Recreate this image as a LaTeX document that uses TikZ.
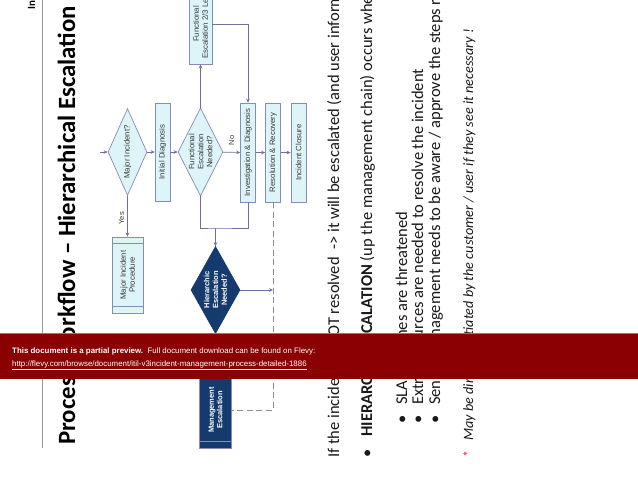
\documentclass[tikz,border=0pt]{standalone}
\usepackage{fontspec}
\setmainfont{Carlito}
\newfontfamily\arialf{Liberation Sans}
\usetikzlibrary{shapes.geometric,arrows.meta}
\definecolor{boxfill}{HTML}{DDF4F8}
\definecolor{boxdraw}{HTML}{8A8AB8}
\definecolor{linec}{HTML}{6F6FA0}
\definecolor{navy}{HTML}{153A6E}
\definecolor{bannerred}{HTML}{8B0000}
\definecolor{txt}{HTML}{3A3A3A}
\definecolor{dashc}{HTML}{8A8AB0}
\definecolor{starred}{HTML}{E03030}
\tikzset{
  fbox/.style={rectangle, draw=boxdraw, fill=boxfill, line width=0.7pt, rotate=90, inner sep=0pt,
    font=\arialf\fontsize{7.8}{9}\selectfont, text=txt, align=center},
  fdia/.style={diamond, draw=boxdraw, fill=boxfill, line width=0.7pt, rotate=90, inner sep=0pt,
    font=\arialf\fontsize{7.8}{9}\selectfont, text=txt, align=center},
  navybox/.style={fbox, fill=navy, draw=boxdraw, text=white, font=\arialf\bfseries\fontsize{7.5}{8.5}\selectfont},
  navydia/.style={fdia, fill=navy, draw=navy, text=white, font=\arialf\bfseries\fontsize{7.5}{8.8}\selectfont},
  conn/.style={draw=linec, line width=0.7pt, -{Stealth[length=4pt,width=3.6pt]}},
  plainline/.style={draw=linec, line width=0.7pt},
  dashline/.style={draw=dashc, line width=0.8pt, dash pattern=on 6pt off 3.5pt},
  lbl/.style={rotate=90, font=\arialf\fontsize{7.5}{9}\selectfont, text=txt, inner sep=0pt},
  body/.style={rotate=90, anchor=base west, inner sep=0pt, font=\fontsize{16.5}{20}\selectfont, text=black!90},
}
\begin{document}
\begin{tikzpicture}[x=1pt,y=-1pt]
\useasboundingbox (0,0) rectangle (638,493);
\clip (0,0) rectangle (638,493);
\fill[white] (0,0) rectangle (638,493);

% header and rule
\node[rotate=90, anchor=base west, inner sep=0pt, font=\bfseries\fontsize{11}{12}\selectfont] (hdr) at (35,10) {Incident Management};
\draw[black!40, line width=0.8pt] (42,0) -- (42,448);

% title
\node[rotate=90, anchor=base west, inner sep=0pt, font=\bfseries\fontsize{24.8}{30}\selectfont] (title) at (75,445) {Process Workflow – Hierarchical Escalation};

% flowchart
\coordinate (start) at (100,152);
\node[fdia, aspect=2.2, minimum width=87, minimum height=39] (mi) at (127.5,152) {Major Incident?};
\node[fbox, minimum width=98, minimum height=15] (id) at (162.5,152) {Initial Diagnosis};
\node[fdia, aspect=2, minimum width=88, minimum height=45] (fe) at (200.5,152) {Functional\\Escalation\\Needed?};
\node[fbox, minimum width=80, minimum height=23] (fe23) at (200.5,24) {Functional\\Escalation 2/3 Level};
\node[fbox, minimum width=99, minimum height=15] (inv) at (248,152.5) {Investigation \& Diagnosis};
\node[fbox, minimum width=99, minimum height=15] (res) at (273,152.5) {Resolution \& Recovery};
\node[fbox, minimum width=99, minimum height=15] (clo) at (298.5,152.5) {Incident Closure};
\node[fbox, minimum width=76, minimum height=31] (mip) at (127.5,275) {Major Incident\\Procedure};
\node[navydia, aspect=1.8, minimum width=87, minimum height=49] (hd) at (215.5,290) {Hierarchic\\Escalation\\Needed?};
\node[navybox, minimum width=76, minimum height=32] (me) at (215.5,410) {Management\\Escalation};
\coordinate (j) at (215.5,228);
\coordinate (dh) at (273,290);

\draw[boxdraw, line width=0.6pt] ([yshift=-7pt]mip.north east) -- ([yshift=-7pt]mip.south east);
\draw[boxdraw, line width=0.6pt] ([yshift=7pt]mip.north west) -- ([yshift=7pt]mip.south west);
\draw[boxdraw, line width=0.6pt] ([yshift=-7pt]me.north east) -- ([yshift=-7pt]me.south east);
\draw[boxdraw, line width=0.6pt] ([yshift=7pt]me.north west) -- ([yshift=7pt]me.south west);

\draw[conn] (start) -- (mi);
\draw[conn] (mi) -- (id);
\draw[conn] (id) -- (fe);
\draw[conn] (fe) -- node[yshift=12pt, lbl] {No} (inv);
\draw[conn] (inv) -- (res);
\draw[conn] (res) -- (clo);
\draw[conn] (mi) -- node[pos=0.55, xshift=-6pt, lbl] {Yes} (mip);
\draw[conn] (fe) -- (fe23);
\draw[conn] (fe23.south) -| (inv.east);
\draw[plainline] (fe.west) |- (j) -| (inv.west);
\draw[conn] (j) -- (hd);
\draw[conn] (hd) -- (dh);
\draw[conn] (hd) -- (me);
\draw[dashline] (res.west) |- (me.south);

% body text
\node[body] (l1) at (339,458) {If the incident is NOT resolved\ \ -> it will be escalated (and user informed)};
\node[body] (b1) at (372,458) {•};
\node[body] (l2) at (372,437) {\textbf{HIERARCHIC ESCALATION} (up the management chain) occurs when:};
\node[body] (b2) at (407,424) {•};
\node[body] (s1) at (407,405) {SLA timelines are threatened};
\node[body] (b3) at (423,424) {•};
\node[body] (s2) at (423,405) {Extra resources are needed to resolve the incident};
\node[body] (b4) at (440,424) {•};
\node[body] (s3) at (440,405) {Senior management needs to be aware / approve the steps required};
\node[body, text=starred, font=\fontsize{14}{16}\selectfont] (st) at (473,458) {*};
\node[body, font=\itshape\fontsize{14.2}{16}\selectfont] (l3) at (473,441) {May be directly initiated by the customer / user if they see it necessary !};

% preview banner
\fill[bannerred] (0,333) rectangle (638,379);
\draw[bannerred!60!white, line width=0.6pt] (0,333.3) -- (638,333.3);
\node[anchor=base west, inner sep=0pt, text=white, font=\arialf\fontsize{7.9}{9}\selectfont] (bn1) at (12,353) {\textbf{This document is a partial preview.}\ \ Full document download can be found on Flevy:};
\node[anchor=base west, inner sep=0pt, text=white, font=\arialf\fontsize{7.9}{9}\selectfont] (bn2) at (12,366.5) {\underline{http://flevy.com/browse/document/itil-v3incident-management-process-detailed-1886}};
\end{tikzpicture}
\end{document}
